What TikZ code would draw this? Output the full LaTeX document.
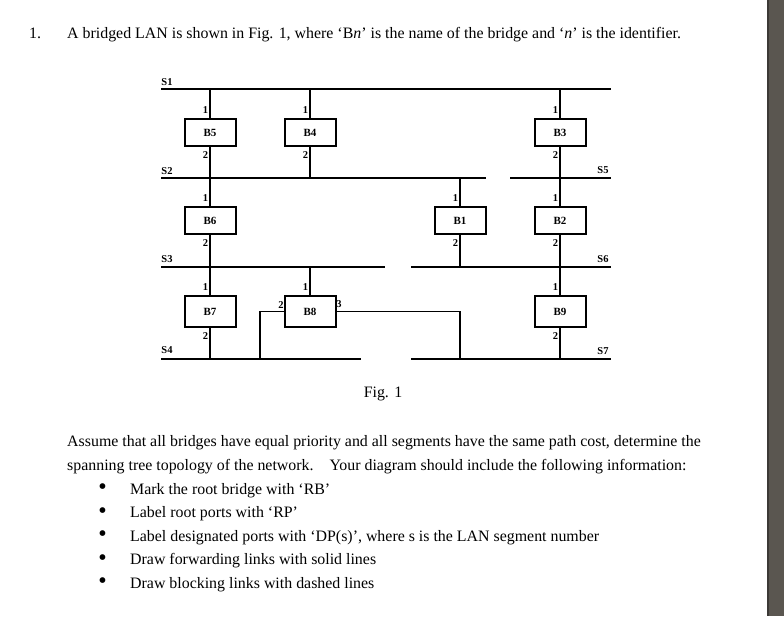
\documentclass[tikz,border=0pt]{standalone}
\usepackage{fontspec}
\setmainfont{Liberation Serif}
\begin{document}
\begin{tikzpicture}[x=1pt,y=-1pt,
  seg/.style={line width=2.4pt},
  link/.style={line width=1.5pt},
  bridge/.style={draw, line width=2pt, minimum width=51pt, minimum height=27pt, inner sep=0pt, fill=white, font=\fontsize{11}{13}\selectfont\bfseries},
  tall/.style={minimum height=31pt},
  port/.style={font=\fontsize{10.5}{12}\selectfont\bfseries, inner sep=0pt},
  seglabel/.style={font=\fontsize{10.5}{12}\selectfont\bfseries, inner sep=0pt},
  txt/.style={font=\fontsize{15.9}{18}\selectfont, inner sep=0pt, anchor=base west},
  bul/.style={font=\fontsize{24}{24}\selectfont, inner sep=0pt}]
\useasboundingbox (0,0) rectangle (784,616);
\fill[white] (0,0) rectangle (784,616);
\fill[color={rgb,255:red,90;green,86;blue,80}] (767,0) rectangle (784,616);
\fill[color={rgb,255:red,60;green,57;blue,54}] (767,0) rectangle (769,616);

% segments
\coordinate (s1a) at (161,89);  \coordinate (s1b) at (611,89);
\coordinate (s2a) at (161,178); \coordinate (s2b) at (486,178);
\coordinate (s5a) at (510,178); \coordinate (s5b) at (611,178);
\coordinate (s3a) at (161,267); \coordinate (s3b) at (385,267);
\coordinate (s6a) at (411,267); \coordinate (s6b) at (611,267);
\coordinate (s4a) at (161,359); \coordinate (s4b) at (361,359);
\coordinate (s7a) at (411,359); \coordinate (s7b) at (611,359);
\draw[seg] (s1a) -- (s1b);
\draw[seg] (s2a) -- (s2b);
\draw[seg] (s5a) -- (s5b);
\draw[seg] (s3a) -- (s3b);
\draw[seg] (s6a) -- (s6b);
\draw[seg] (s4a) -- (s4b);
\draw[seg] (s7a) -- (s7b);

\node[seglabel] (l1) at (167,82) {S1};
\node[seglabel] (l2) at (167,171) {S2};
\node[seglabel] (l3) at (167,259) {S3};
\node[seglabel] (l4) at (167,350) {S4};
\node[seglabel] (l5) at (603,170) {S5};
\node[seglabel] (l6) at (603,259) {S6};
\node[seglabel] (l7) at (603,351) {S7};

% bridges
\node[bridge] (B5) at (210,132.5) {B5};
\node[bridge] (B4) at (310,132.5) {B4};
\node[bridge] (B3) at (560,132.5) {B3};
\node[bridge] (B6) at (210,220.5) {B6};
\node[bridge] (B1) at (460,220.5) {B1};
\node[bridge] (B2) at (560,220.5) {B2};
\node[bridge,tall] (B7) at (210,311.5) {B7};
\node[bridge,tall] (B8) at (310,311.5) {B8};
\node[bridge,tall] (B9) at (560,311.5) {B9};

\coordinate (b8l) at (260,359);
\coordinate (b8r) at (460,359);

% links
\draw[link] (B5.north) -- (B5.north |- s1a);
\draw[link] (B5.south) -- (B6.north);
\draw[link] (B4.north) -- (B4.north |- s1a);
\draw[link] (B4.south) -- (B4.south |- s2a);
\draw[link] (B3.north) -- (B3.north |- s1a);
\draw[link] (B3.south) -- (B2.north);
\draw[link] (B1.north) -- (B1.north |- s2a);
\draw[link] (B1.south) -- (B1.south |- s6a);
\draw[link] (B6.south) -- (B7.north);
\draw[link] (B2.south) -- (B9.north);
\draw[link] (B7.south) -- (B7.south |- s4a);
\draw[link] (B8.north) -- (B8.north |- s3a);
\draw[link] (B8.west) -| (b8l);
\draw[link] (B8.east) -| (b8r);
\draw[link] (B9.south) -- (B9.south |- s7a);

% port labels
\foreach \b in {B5,B4,B3,B6,B1,B2,B7,B8,B9}{
  \node[port] (\b-p1) at ([xshift=-4.5pt,yshift=8pt]\b.north) {1};
}
\foreach \b in {B5,B4,B3,B6,B1,B2,B7,B9}{
  \node[port] (\b-p2) at ([xshift=-4.5pt,yshift=-8pt]\b.south) {2};
}
\node[port] (B8-pw) at (281,305) {2};
\node[port] (B8-pe) at (339,304) {3};

% texts
\node[txt] (num) at (29,38) {1.};
\node[txt] (title) at (67,38) {A bridged LAN is shown in Fig. 1, where ‘B\textit{n}’ is the name of the bridge and ‘\textit{n}’ is the identifier.};
\node[txt, anchor=base] (fig) at (383,397) {Fig. 1};
\node[txt] (p1) at (67,446) {Assume that all bridges have equal priority and all segments have the same path cost, determine the};
\node[txt] (p2) at (67,470) {spanning tree topology of the network.\quad Your diagram should include the following information:};
\foreach \i/\t in {0/{Mark the root bridge with ‘RB’},1/{Label root ports with ‘RP’},2/{Label designated ports with ‘DP(s)’, where s is the LAN segment number},3/{Draw forwarding links with solid lines},4/{Draw blocking links with dashed lines}}{
  \node[bul] (bul\i) at (102.5,{489+23.6*\i}) {\textbullet};
  \node[txt] (it\i) at (130,{494+23.6*\i}) {\t};
}
\end{tikzpicture}
\end{document}
